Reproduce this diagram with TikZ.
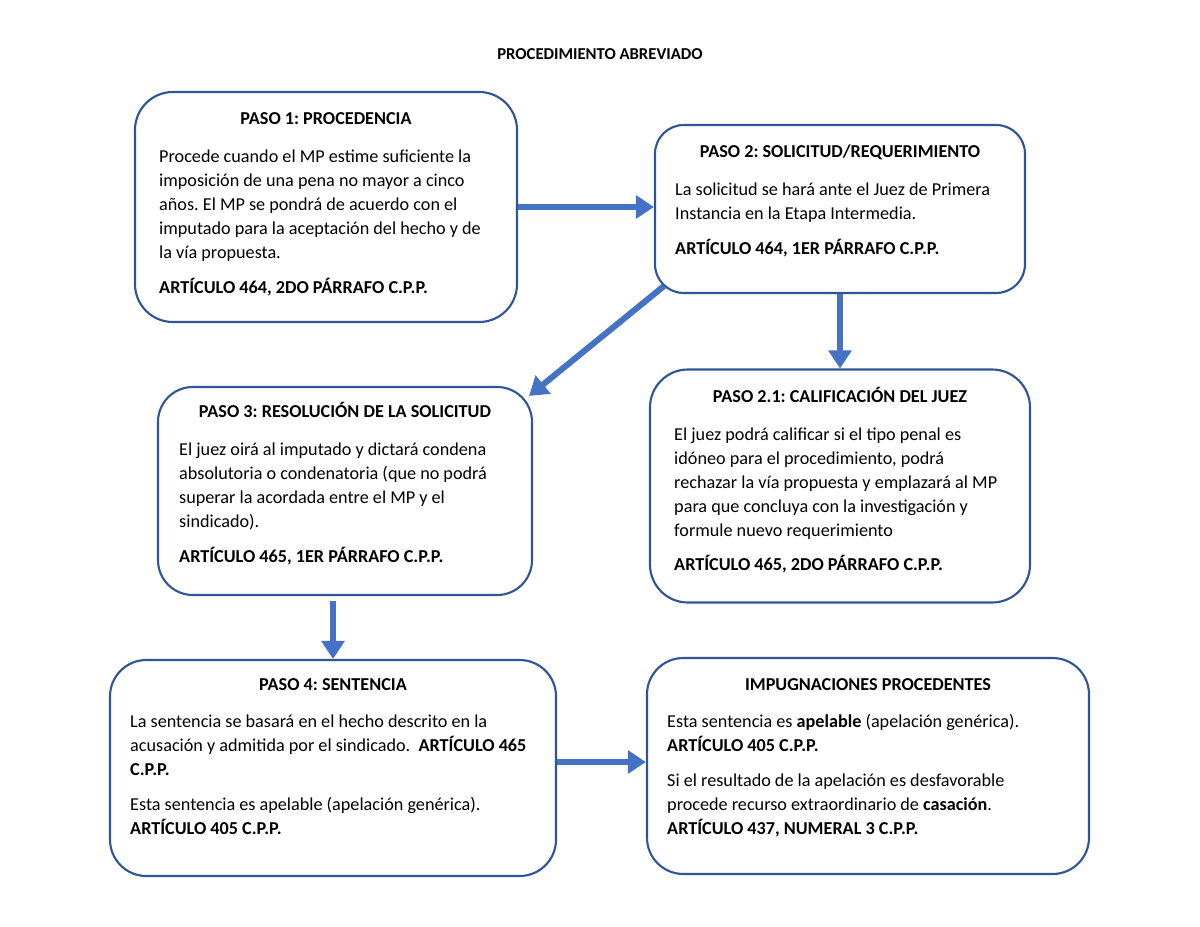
\documentclass[tikz,border=0pt]{standalone}
\usepackage{fontspec}
\setmainfont{Carlito}
\usepackage{tikz}
\usetikzlibrary{arrows.meta, positioning}
\definecolor{borde}{HTML}{2F5597}
\definecolor{azulflecha}{HTML}{4472C4}
\frenchspacing
\tikzset{
    caja/.style={rectangle, draw=borde, line width=1.4pt, fill=white, inner sep=0pt},
    encabezado/.style={font=\fontsize{12}{14}\selectfont\bfseries, anchor=base, inner sep=0pt},
    cuerpo/.style={font=\fontsize{12}{15.84}\selectfont, align=left, anchor=north west, inner sep=0pt},
    flecha/.style={line width=4pt, draw=azulflecha, -{Triangle[length=12pt, width=15pt]}},
}

\begin{document}
\begin{tikzpicture}[x=0.66pt, y=-0.66pt]
    \useasboundingbox (0,0) rectangle (1200,927);

    \node [font=\fontsize{11}{13}\selectfont\bfseries] (titulo) at (600,54) {PROCEDIMIENTO ABREVIADO};

    % cajas
    \node [caja, minimum width=382*0.66pt, minimum height=230*0.66pt, rounded corners=25pt] (p1) at (326,207) {};
    \node [caja, minimum width=370*0.66pt, minimum height=168*0.66pt, rounded corners=19pt] (p2) at (840,209) {};
    \node [caja, minimum width=380*0.66pt, minimum height=233*0.66pt, rounded corners=25pt] (p21) at (840,486) {};
    \node [caja, minimum width=374*0.66pt, minimum height=208*0.66pt, rounded corners=23pt] (p3) at (345,491) {};
    \node [caja, minimum width=446*0.66pt, minimum height=216*0.66pt, rounded corners=24pt] (p4) at (333,768) {};
    \node [caja, minimum width=442*0.66pt, minimum height=216*0.66pt, rounded corners=24pt] (imp) at (868,766) {};

    % textos
    \node [encabezado] (e1) at ([shift={(0,34)}]p1.north) {PASO 1: PROCEDENCIA};
    \node [cuerpo] (c1) at ([shift={(25,59)}]p1.north west) {Procede cuando el MP estime suficiente la\\
        imposición de una pena no mayor a cinco\\
        años. El MP se pondrá de acuerdo con el\\
        imputado para la aceptación del hecho y de\\
        la vía propuesta.\\[7pt]
        \textbf{ARTÍCULO 464, 2DO PÁRRAFO C.P.P.}};

    \node [encabezado] (e2) at ([shift={(0,34)}]p2.north) {PASO 2: SOLICITUD/REQUERIMIENTO};
    \node [cuerpo] (c2) at ([shift={(21,59)}]p2.north west) {La solicitud se hará ante el Juez de Primera\\
        Instancia en la Etapa Intermedia.\\[7pt]
        \textbf{ARTÍCULO 464, 1ER PÁRRAFO C.P.P.}};

    \node [encabezado] (e21) at ([shift={(0,34)}]p21.north) {PASO 2.1: CALIFICACIÓN DEL JUEZ};
    \node [cuerpo] (c21) at ([shift={(25,59)}]p21.north west) {El juez podrá calificar si el tipo penal es\\
        idóneo para el procedimiento, podrá\\
        rechazar la vía propuesta y emplazará al MP\\
        para que concluya con la investigación y\\
        formule nuevo requerimiento\\[7pt]
        \textbf{ARTÍCULO 465, 2DO PÁRRAFO C.P.P.}};

    \node [encabezado] (e3) at ([shift={(0,32)}]p3.north) {PASO 3: RESOLUCIÓN DE LA SOLICITUD};
    \node [cuerpo] (c3) at ([shift={(22,57)}]p3.north west) {El juez oirá al imputado y dictará condena\\
        absolutoria o condenatoria (que no podrá\\
        superar la acordada entre el MP y el\\
        sindicado).\\[7pt]
        \textbf{ARTÍCULO 465, 1ER PÁRRAFO C.P.P.}};

    \node [encabezado] (e4) at ([shift={(0,32)}]p4.north) {PASO 4: SENTENCIA};
    \node [cuerpo] (c4) at ([shift={(21,56)}]p4.north west) {La sentencia se basará en el hecho descrito en la\\
        acusación y admitida por el sindicado.~ \textbf{ARTÍCULO 465}\\
        \textbf{C.P.P.}\\[7pt]
        Esta sentencia es apelable (apelación genérica).\\
        \textbf{ARTÍCULO 405 C.P.P.}};

    \node [encabezado] (e5) at ([shift={(0,34)}]imp.north) {IMPUGNACIONES PROCEDENTES};
    \node [cuerpo] (c5) at ([shift={(21,57)}]imp.north west) {Esta sentencia es \textbf{apelable} (apelación genérica).\\
        \textbf{ARTÍCULO 405 C.P.P.}\\[7pt]
        Si el resultado de la apelación es desfavorable\\
        procede recurso extraordinario de \textbf{casación}.\\
        \textbf{ARTÍCULO 437, NUMERAL 3 C.P.P.}};

    % flechas
    \draw [flecha] (p1.east) -- (p1.east -| p2.west);
    \draw [flecha] ([shift={(10,-8)}]p2.south west) -- ([shift={(-4,10)}]p3.north east);
    \draw [flecha] (p2.south) -- (p21.north);
    \draw [flecha, shorten <=3pt] (p4.north |- p3.south) -- (p4.north);
    \draw [flecha] ([shift={(0,-6)}]p4.east) -- ([shift={(0,-6)}]p4.east -| imp.west);
\end{tikzpicture}
\end{document}
